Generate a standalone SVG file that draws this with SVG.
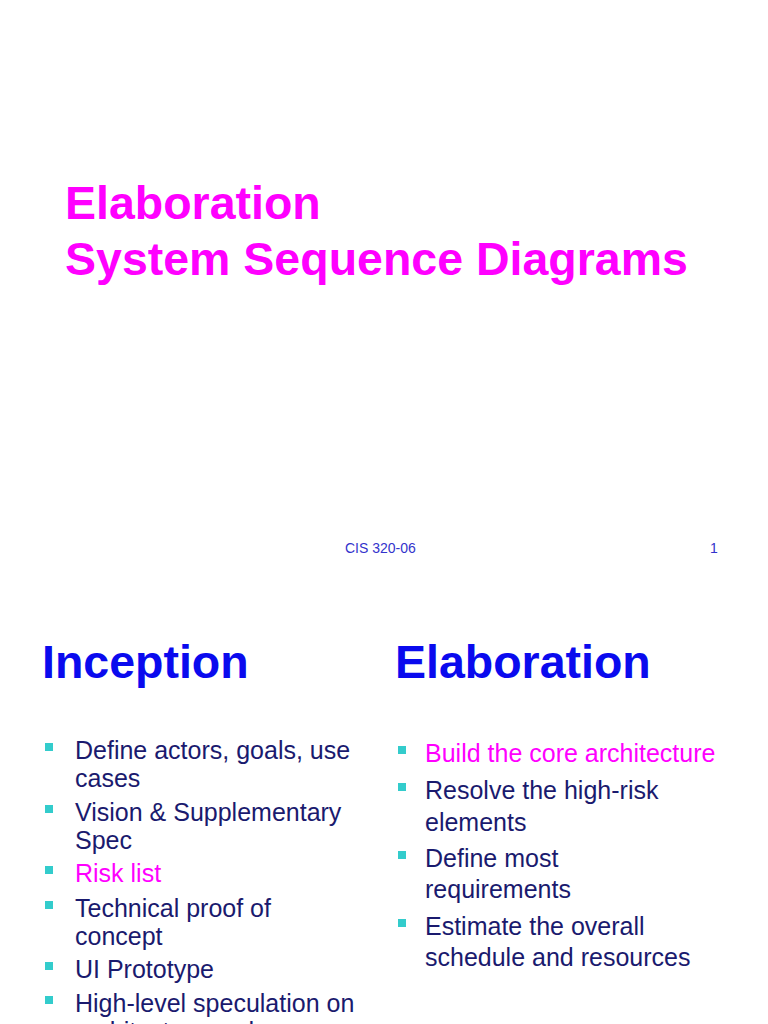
<svg xmlns="http://www.w3.org/2000/svg" width="768" height="1024" viewBox="0 0 768 1024">
<style>
text{font-family:"Liberation Sans",Arial,sans-serif}
.t{fill:#ff00ff;font-size:46.5px;font-weight:bold}
.h{fill:#0a0aee;font-size:46.5px;font-weight:bold}
.b{fill:#1a1a6e;font-size:25px}
.m{fill:#ff00ff;font-size:25px}
.f{fill:#3333cc;font-size:14px}
.s{fill:#33cccc}
</style>
<defs><clipPath id="c"><rect x="380" y="700" width="340" height="324"/></clipPath></defs>
<rect width="768" height="1024" fill="#fff"/>
<text class="t" x="65" y="219">Elaboration</text>
<text class="t" x="65" y="275">System Sequence Diagrams</text>
<text class="f" x="345" y="553">CIS 320-06</text>
<text class="f" x="710" y="553">1</text>
<text class="h" x="42" y="678">Inception</text>
<text class="h" x="395" y="678">Elaboration</text>
<g class="s">
<rect x="45" y="743" width="8" height="8"/><rect x="45" y="805" width="8" height="8"/><rect x="45" y="866" width="8" height="8"/><rect x="45" y="901" width="8" height="8"/><rect x="45" y="962" width="8" height="8"/><rect x="45" y="996" width="8" height="8"/>
<rect x="398" y="746" width="8" height="8"/><rect x="398" y="783" width="8" height="8"/><rect x="398" y="851" width="8" height="8"/><rect x="398" y="919" width="8" height="8"/>
</g>
<text class="b" x="75" y="759">Define actors, goals, use</text>
<text class="b" x="75" y="787">cases</text>
<text class="b" x="75" y="821">Vision &amp; Supplementary</text>
<text class="b" x="75" y="849">Spec</text>
<text class="m" x="75" y="882">Risk list</text>
<text class="b" x="75" y="917">Technical proof of</text>
<text class="b" x="75" y="945">concept</text>
<text class="b" x="75" y="978">UI Prototype</text>
<text class="b" x="75" y="1012">High-level speculation on</text>
<text class="b" x="75" y="1040">architecture and</text>
<g clip-path="url(#c)">
<text class="m" x="425" y="762">Build the core architecture</text>
<text class="b" x="425" y="799">Resolve the high-risk</text>
<text class="b" x="425" y="831">elements</text>
<text class="b" x="425" y="867">Define most</text>
<text class="b" x="425" y="898">requirements</text>
<text class="b" x="425" y="935">Estimate the overall</text>
<text class="b" x="425" y="966">schedule and resources</text>
</g>
</svg>
